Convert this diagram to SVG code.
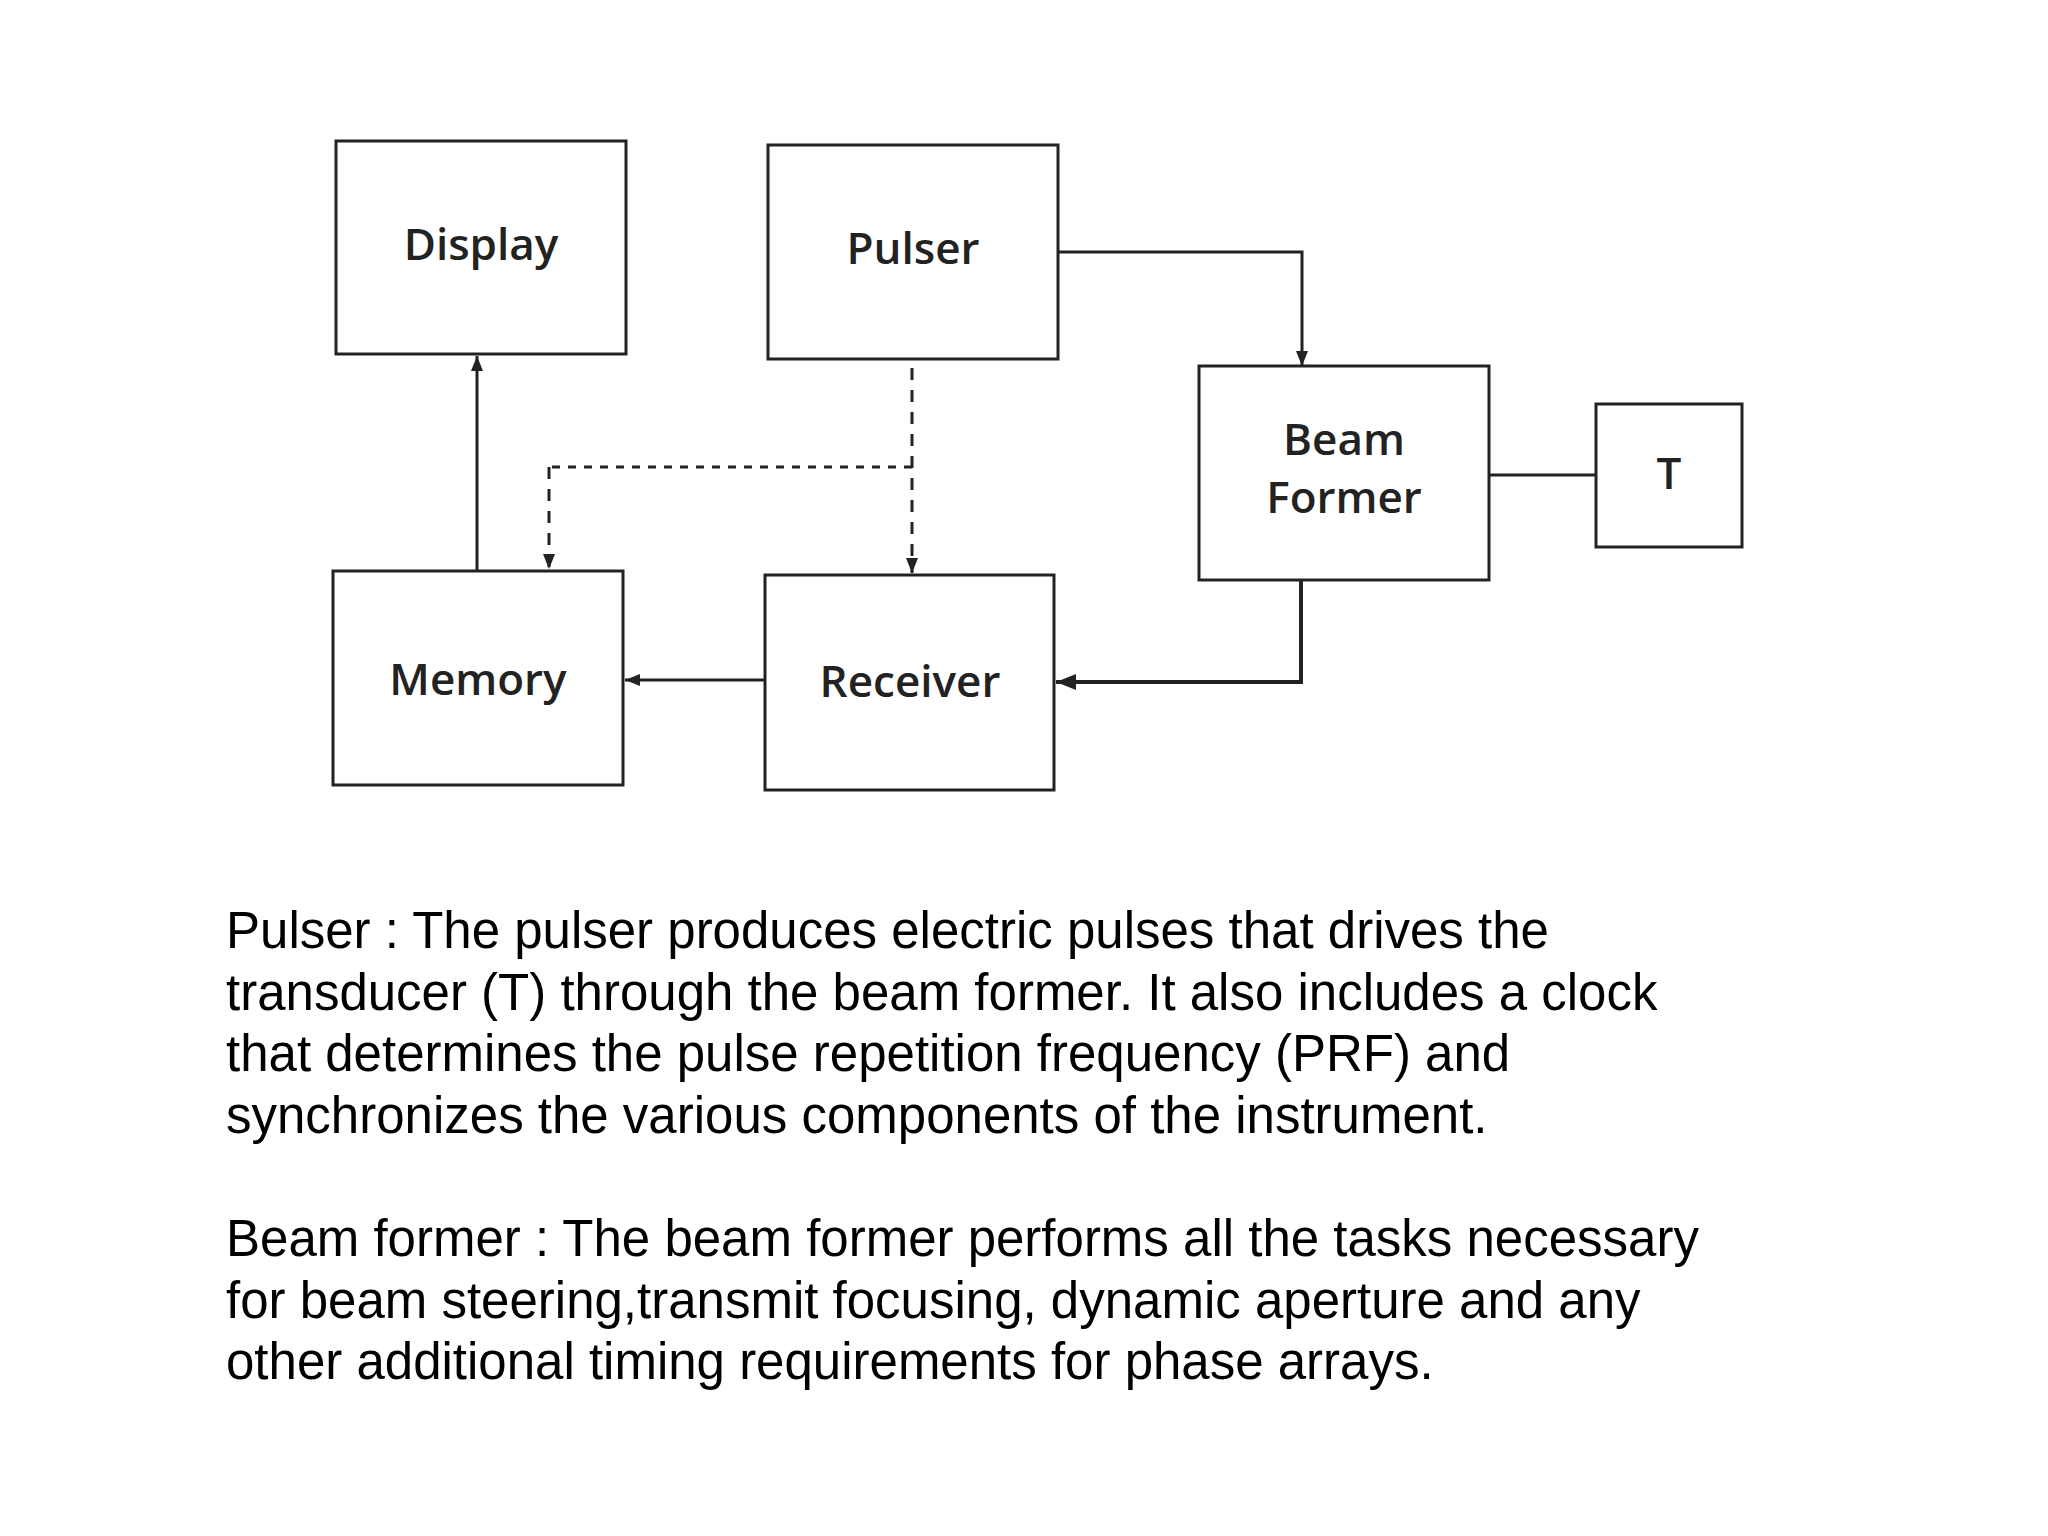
<svg xmlns="http://www.w3.org/2000/svg" width="2048" height="1536" viewBox="0 0 2048 1536">
<style>
.box{fill:#fff;stroke:#222;stroke-width:3}
.lbl{font-family:"Open Sans","Liberation Sans",sans-serif;font-weight:600;font-size:44px;fill:#222;text-anchor:middle}
.ln{fill:none;stroke:#222;stroke-width:3}
.dash{fill:none;stroke:#222;stroke-width:3;stroke-dasharray:12 10}
.dot{fill:none;stroke:#222;stroke-width:3;stroke-dasharray:8 8}
.body{font-family:"Liberation Sans",Arial,sans-serif;font-size:51px;fill:#000}
</style>
<defs><marker id="ah" viewBox="0 0 10 10" refX="10" refY="5" markerWidth="5" markerHeight="5" orient="auto"><path d="M0,1 L10,5 L0,9 z" fill="#222"/></marker></defs>
<rect width="2048" height="1536" fill="#fff"/>
<g id="connectors">
<path class="ln" d="M1058,252 H1302 V366" marker-end="url(#ah)"/>
<path class="ln" d="M1489,475 H1596"/>
<path class="ln" style="stroke-width:4" d="M1301,580 V682 H1056" marker-end="url(#ah)"/>
<path class="ln" d="M765,680 H625" marker-end="url(#ah)"/>
<path class="ln" d="M477,571 V356" marker-end="url(#ah)"/>
<path class="dash" d="M912,368 V573" marker-end="url(#ah)"/>
<path class="dot" d="M912,467 H549"/>
<path class="dash" d="M549,467 V569" marker-end="url(#ah)"/>
</g>
<g id="display"><rect class="box" x="336" y="141" width="290" height="213"/><text class="lbl" x="481" y="260">Display</text></g>
<g id="pulser"><rect class="box" x="768" y="145" width="290" height="214"/><text class="lbl" x="913" y="264">Pulser</text></g>
<g id="beamformer"><rect class="box" x="1199" y="366" width="290" height="214"/><text class="lbl" x="1344" y="455">Beam</text><text class="lbl" x="1344" y="513">Former</text></g>
<g id="t"><rect class="box" x="1596" y="404" width="146" height="143"/><text class="lbl" x="1669" y="489">T</text></g>
<g id="memory"><rect class="box" x="333" y="571" width="290" height="214"/><text class="lbl" x="478" y="695">Memory</text></g>
<g id="receiver"><rect class="box" x="765" y="575" width="289" height="215"/><text class="lbl" x="910" y="697">Receiver</text></g>
<g id="text">
<text class="body" x="226" y="948">Pulser : The pulser produces electric pulses that drives the</text>
<text class="body" x="226" y="1010">transducer (T) through the beam former. It also includes a clock</text>
<text class="body" x="226" y="1071">that determines the pulse repetition frequency (PRF) and</text>
<text class="body" x="226" y="1133">synchronizes the various components of the instrument.</text>
<text class="body" x="226" y="1256">Beam former : The beam former performs all the tasks necessary</text>
<text class="body" x="226" y="1318">for beam steering,transmit focusing, dynamic aperture and any</text>
<text class="body" x="226" y="1379">other additional timing requirements for phase arrays.</text>
</g>
</svg>
